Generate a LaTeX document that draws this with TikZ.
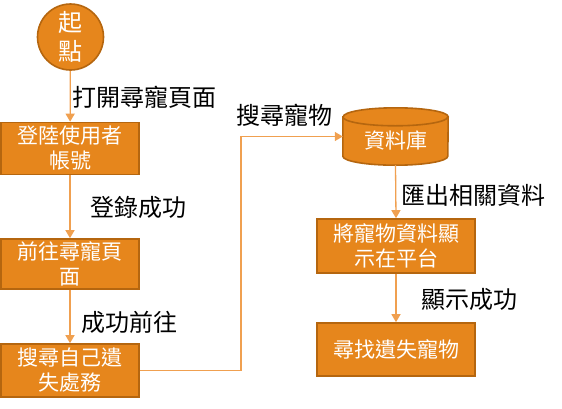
\documentclass[tikz,border=0pt]{standalone}
\usepackage{fontspec}
\setmainfont{Noto Sans CJK TC}
\usepackage{tikz}
\usetikzlibrary{shapes.geometric, arrows.meta, positioning, calc}

\definecolor{boxorange}{HTML}{E6861C}
\definecolor{boxedge}{HTML}{B5660F}
\definecolor{lineorange}{HTML}{F0A050}

\begin{document}
\begin{tikzpicture}[x=1pt, y=-1pt,
  box/.style={rectangle, fill=boxorange, draw=boxedge, line width=1.6pt,
    minimum width=138pt, minimum height=52pt, inner sep=0pt, text=white,
    align=center, font=\fontsize{21}{25}\selectfont},
  widebox/.style={box, minimum width=158pt, minimum height=54pt},
  flow/.style={draw=lineorange, line width=1.3pt, -{Triangle[length=8pt,width=9pt]}},
  lbl/.style={anchor=west, inner sep=0pt, font=\fontsize{24}{28}\selectfont}]
\useasboundingbox (0,0) rectangle (562,408);

% Start point
\node[circle, fill=boxorange, draw=boxedge, line width=1.6pt, minimum size=66pt,
  inner sep=0pt, text=white, align=center, font=\fontsize{24}{29}\selectfont]
  (start) at (70.5,37) {起\\點};

% Left column
\node[box] (login) at (70,148.5) {登陸使用者\\帳號};
\node[box, minimum height=50pt] (page) at (70,264) {前往尋寵頁\\面};
\node[box, minimum height=53pt] (search) at (70,370.5) {搜尋自己遺\\失處務};

% Database (cylinder drawn round the node)
\node[minimum width=105pt, minimum height=57pt, inner sep=0pt] (db) at (395.5,136.5) {};
\draw[fill=boxorange, draw=boxedge, line width=1.6pt]
  ($(db.north west)+(0,9)$) -- ($(db.south west)-(0,9)$)
  arc[start angle=180, end angle=0, x radius=52.5, y radius=9]
  -- ($(db.north east)+(0,9)$)
  arc[start angle=0, end angle=-180, x radius=52.5, y radius=9] -- cycle;
\draw[draw=boxedge, line width=1.6pt] ($(db.north west)+(0,9)$)
  arc[start angle=180, end angle=0, x radius=52.5, y radius=9];
\node[text=white, font=\fontsize{21}{25}\selectfont] (dbtext)
  at ($(db.center)+(0,4)$) {資料庫};

% Right column
\node[widebox] (show) at (396,246) {將寵物資料顯\\示在平台};
\node[widebox, minimum height=53pt] (find) at (396,349.5) {尋找遺失寵物};

% Connectors
\coordinate (bend) at (241,370.5);
\draw[flow] (start) -- (login);
\draw[flow] (login) -- (page);
\draw[flow] (page) -- (search);
\draw[flow] (search.east) -- (bend) |- (db.west);
\draw[flow] (db.south) -- (show.north);
\draw[flow] (show) -- (find);

% Connector labels
\node[lbl] (l1) at (72,97) {打開尋寵頁面};
\node[lbl] (l2) at (90,207) {登錄成功};
\node[lbl] (l3) at (81,322) {成功前往};
\node[lbl] (l4) at (236,115) {搜尋寵物};
\node[lbl] (l5) at (401,195) {匯出相關資料};
\node[lbl] (l6) at (421,299) {顯示成功};
\end{tikzpicture}
\end{document}
